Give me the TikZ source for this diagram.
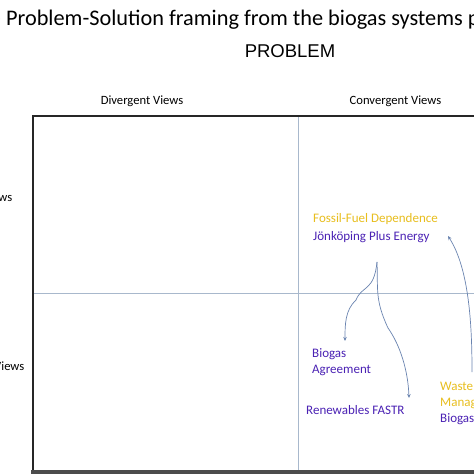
\documentclass[tikz,border=0pt]{standalone}
\usepackage{fontspec}
\setmainfont{Carlito}
\newfontfamily\helv{Liberation Sans}
\usetikzlibrary{arrows.meta}
\definecolor{gold}{HTML}{E8BE1E}
\definecolor{purp}{HTML}{4B22B4}
\definecolor{divline}{HTML}{A8B8CC}
\definecolor{arr}{HTML}{6A84B0}
\tikzset{
  lbl/.style={inner sep=0pt, font=\fontsize{13}{14}\selectfont},
  yel/.style={lbl, text=gold},
  pur/.style={lbl, text=purp},
  axis/.style={inner sep=0pt, font=\fontsize{12.6}{14}\selectfont},
  conn/.style={draw=arr, line width=0.7pt, -{Stealth[length=4pt,width=3.5pt]}},
}
\begin{document}
\begin{tikzpicture}[x=1pt,y=-1pt]
\useasboundingbox (0,0) rectangle (474,474);
\fill[white] (0,0) rectangle (474,474);
% title
\node[anchor=base west, inner sep=0pt, font=\fontsize{22.3}{24}\selectfont] (title) at (-6,25) {- Problem-Solution framing from the biogas systems perspective};
\node[anchor=base, inner sep=0pt, font=\helv\fontsize{18.5}{20}\selectfont] (problem) at (290,57) {PROBLEM};
\node[axis, anchor=base] (div) at (142,104) {Divergent Views};
\node[axis, anchor=base] (conv) at (395.5,104) {Convergent Views};
\node[axis, anchor=base east] (lv1) at (12.5,201) {Views};
\node[axis, anchor=base east] (lv2) at (24.5,370) {Views};
% dividers
\draw[divline, line width=0.9pt] (298,116) -- (298,470);
\draw[divline, line width=0.9pt] (33,293) -- (480,293);
% frame
\draw[black!85, line width=2.4pt] (480,116) -- (33,116) -- (33,471);
\draw[black!70, line width=4pt] (31,472) -- (480,472);
% labels
\node[yel, anchor=base west] (ffd) at (313,222) {Fossil-Fuel Dependence};
\node[pur, anchor=base west] (jpe) at (313,240) {Jönköping Plus Energy};
\node[pur, anchor=base west] (bg1) at (312,357) {Biogas};
\node[pur, anchor=base west] (bg2) at (312,373) {Agreement};
\node[pur, anchor=base west] (ren) at (306,414) {Renewables FASTR};
\node[yel, anchor=base west] (ws1) at (440,390) {Waste};
\node[yel, anchor=base west] (ws2) at (440,406) {Management};
\node[pur, anchor=base west] (ws3) at (440,422) {Biogas};
% connectors
\coordinate (src) at (377,262);
\coordinate (ha) at (345,341);
\coordinate (hb) at (409,398);
\coordinate (wsrc) at (472,372);
\coordinate (hc) at (448,236);
\draw[conn] (src) .. controls (374,292) and (362,285) .. (356,300) .. controls (345,310) and (345,325) .. (ha);
\draw[conn] (src) .. controls (378,290) and (375,300) .. (388,328) .. controls (400,345) and (408,370) .. (hb);
\draw[conn] (wsrc) .. controls (472,330) and (470,270) .. (hc);
\end{tikzpicture}
\end{document}
